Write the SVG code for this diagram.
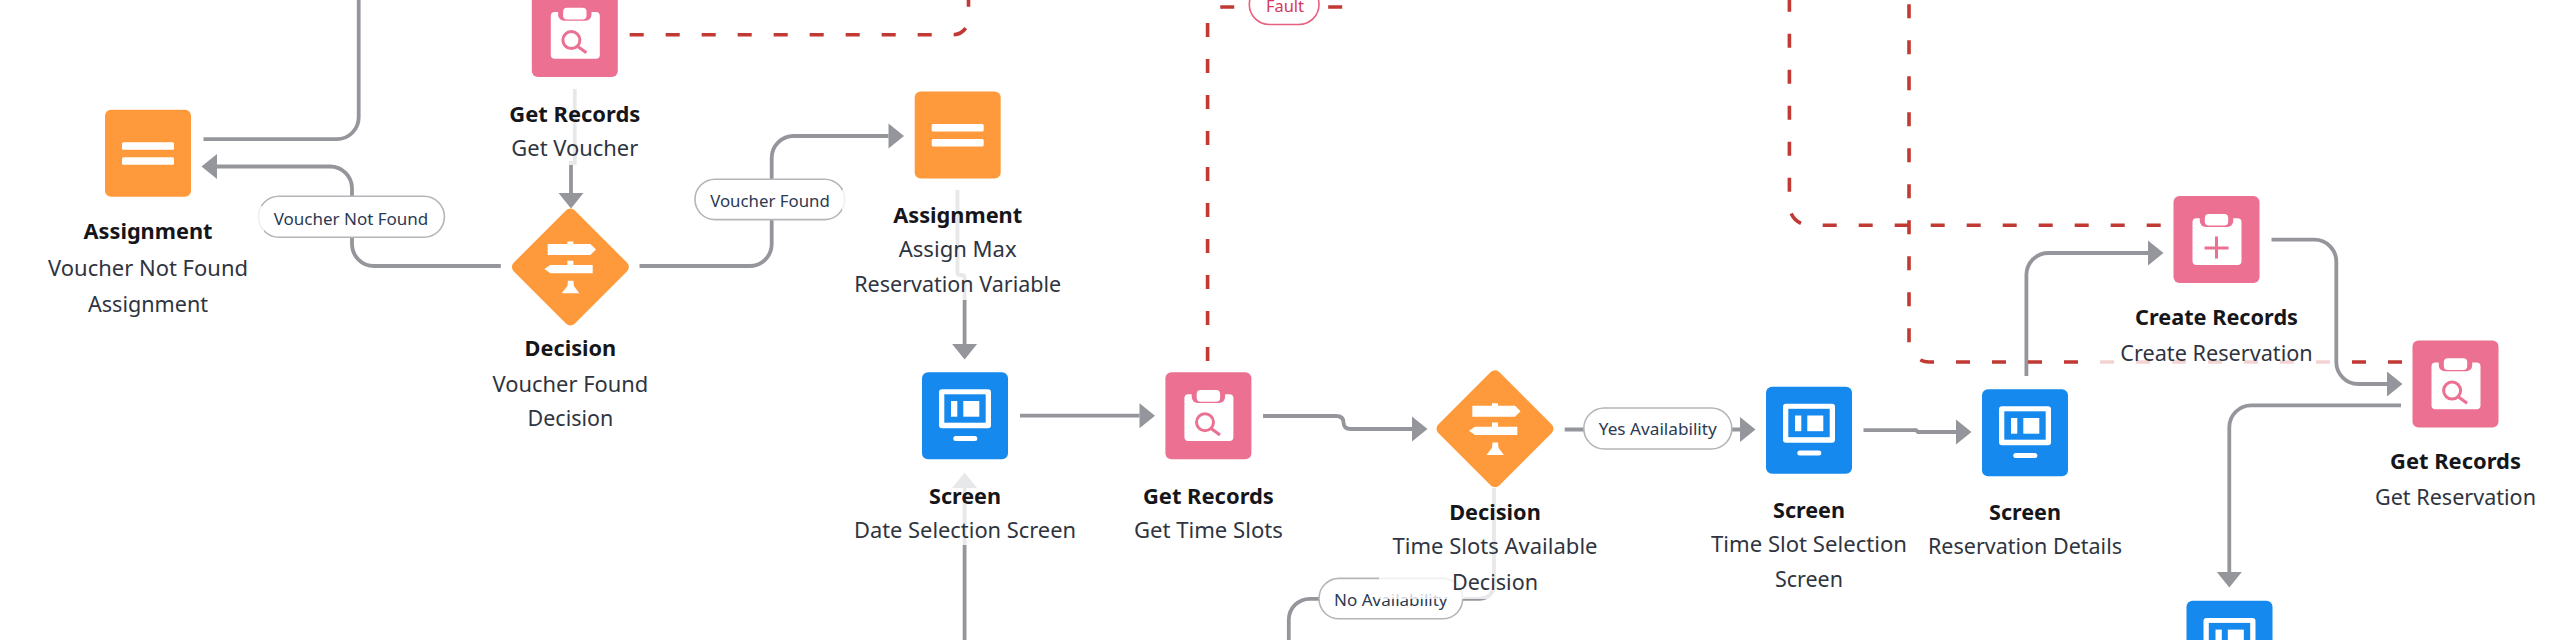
<svg xmlns="http://www.w3.org/2000/svg" width="2560" height="640" viewBox="0 0 2560 640">
<style>
text{font-family:"Noto Sans","Liberation Sans",Arial,sans-serif;text-anchor:middle}
.t{font-size:21.500px;font-weight:700;fill:#16161a}
.s{font-size:21.500px;fill:#2f3440}
.l{font-size:15.500px;fill:#2b3a52}
.f{font-size:15.500px;fill:#d8365a}
.bg{fill:#fff;fill-opacity:.78}
.c{fill:none;stroke:#94969b;stroke-width:3.8}
.a{marker-end:url(#arrow)}
.r{fill:none;stroke:#c23934;stroke-width:3.6;stroke-dasharray:14 22}
.p{fill:#fff;stroke:#b4b5b8;stroke-width:1.6}
.pf{fill:#fff;stroke:#e8607f;stroke-width:1.6}
.or{fill:#ff9a3c}.pk{fill:#eb7092}.bl{fill:#1589ee}.w{fill:#fff}
.ps{fill:none;stroke:#eb7092;stroke-width:3}
</style>
<defs>
<marker id="arrow" markerUnits="userSpaceOnUse" markerWidth="20" markerHeight="30" refX="2" refY="15" orient="auto">
<path d="M2 2.500 L17.500 15 L2 27.500 Z" fill="#94969b"/>
</marker>
<g id="assign">
<rect x="-43" y="-43.500" width="86" height="87" rx="6" class="or"/>
<rect x="-26" y="-11" width="52" height="7.500" rx="1.500" class="w"/>
<rect x="-26" y="4" width="52" height="7.500" rx="1.500" class="w"/>
</g>
<g id="clip">
<rect x="-43" y="-43.500" width="86" height="87" rx="6" class="pk"/>
<rect x="-24" y="-21.400" width="49" height="46.700" rx="4" class="w"/>
<rect x="-16.700" y="-29" width="33.400" height="16.300" rx="6" class="pk"/>
<rect x="-11.700" y="-25.700" width="23.400" height="11.700" rx="4" class="w"/>
</g>
<g id="get">
<use href="#clip"/>
<circle cx="-3.400" cy="6.600" r="8.500" class="ps"/>
<path d="M3 13 L11.600 19.300" class="ps"/>
</g>
<g id="create">
<use href="#clip"/>
<path d="M0 -3 V19 M-12 8.400 H12" class="ps"/>
</g>
<g id="screen">
<rect x="-43" y="-43.500" width="86" height="87" rx="6" class="bl"/>
<rect x="-26" y="-26.400" width="52" height="39" rx="3" class="w"/>
<rect x="-20.700" y="-21.400" width="41.400" height="28.400" class="bl"/>
<rect x="-14" y="-14.700" width="6.300" height="15.700" class="w"/>
<rect x="-1.700" y="-14.700" width="16" height="15.700" class="w"/>
<rect x="-11.700" y="20.300" width="24" height="5" rx="2.500" class="w"/>
</g>
<g id="decide">
<path d="M0 -52.500 L52.500 0 L0 52.500 L-52.500 0 Z" class="or" stroke="#ff9a3c" stroke-width="12" stroke-linejoin="round"/>
<path d="M-20 -23 H-3 V-25.500 H3 V-23 H20 L25.600 -17.500 L20 -12 H-22.700 V-23 Z" class="w"/>
<path d="M-20 -2 H-3 V-6.300 H3 V-2 H22.300 V6.300 H-20 L-26 2 Z" class="w"/>
<path d="M-2.500 13.700 H3 L3.500 19 L8.900 26.300 H-8.700 L-3 19 Z" class="w"/>
</g>
</defs>
<g id="connectors">
<path class="c" d="M203.500 139.200 H336.700 A22 22 0 0 0 358.700 117.200 V0"/>
<path class="c a" d="M574.800 89 V163 H571 V193"/>
<path class="c a" d="M500.800 266 H374 A22 22 0 0 1 352 244 V188.500 A22 22 0 0 0 330 166.500 H217"/>
<path class="c a" d="M639.500 266 H749.700 A22 22 0 0 0 771.700 244 V158 A22 22 0 0 1 793.700 136 H888.500"/>
<path class="c a" d="M957.500 190 V273 Q957.500 275 960 275 H962 Q964.600 275 964.600 278 V344"/>
<path class="c a" d="M964.600 640 V488"/>
<path class="c a" d="M1020 415.700 H1139.500"/>
<path class="c a" d="M1263 416 H1336 Q1343.600 416 1343.600 423 Q1343.600 429 1351 429 H1412"/>
<path class="c a" d="M1564.700 429.500 H1740"/>
<path class="c a" d="M1863.500 430.200 H1916 L1918 432 H1956"/>
<path class="c a" d="M2026.400 376 V275 A22 22 0 0 1 2048.400 253 H2148"/>
<path class="c a" d="M2271.500 239.600 H2314.300 A22 22 0 0 1 2336.300 261.600 V362 A22 22 0 0 0 2358.300 384 H2387"/>
<path class="c a" d="M2401 405.300 H2251.300 A22 22 0 0 0 2229.300 427.300 V572"/>
<path class="c" d="M1494 488 V583 Q1494 598.800 1478 598.800 H1310 A21 21 0 0 0 1288.800 620 V640"/>
<path class="r" d="M629.700 34.700 H953 A15.500 15.500 0 0 0 968.500 19 V0"/>
<path class="r" d="M1207.600 361 V22 A15 15 0 0 1 1222.600 7 H1347"/>
<path class="r" d="M2160.700 225.300 H1809.400 A20 20 0 0 1 1789.400 205 V0"/>
<path class="r" d="M2402 362 H1929 A20 20 0 0 1 1909 342 V0"/>
<rect class="p" x="258.400" y="196.300" width="186" height="41" rx="20.500"/>
<text class="l" x="351" y="225.300" textLength="154.700" lengthAdjust="spacingAndGlyphs">Voucher Not Found</text>
<rect class="p" x="695" y="179.200" width="149.700" height="40.400" rx="20"/>
<text class="l" x="770" y="206.600" textLength="119.600" lengthAdjust="spacingAndGlyphs">Voucher Found</text>
<rect class="pf" x="1249.300" y="-15.500" width="69.700" height="40" rx="20"/>
<text class="f" x="1285" y="12" textLength="38" lengthAdjust="spacingAndGlyphs">Fault</text>
<rect class="p" x="1319" y="578.400" width="143.700" height="40.400" rx="20"/>
<text class="l" x="1390.800" y="606" textLength="113.500" lengthAdjust="spacingAndGlyphs">No Availability</text>
<rect class="p" x="1583.800" y="408" width="148" height="41" rx="20.500"/>
<text class="l" x="1657.800" y="434.700" textLength="118" lengthAdjust="spacingAndGlyphs">Yes Availability</text>
</g>
<g id="node-assign-not-found">
<use href="#assign" x="148" y="153.300"/>
<rect class="bg" x="32" y="206" width="232" height="114"/>
<text class="t" x="148" y="238.800" textLength="129" lengthAdjust="spacingAndGlyphs">Assignment</text>
<text class="s" x="148" y="275.500" textLength="200" lengthAdjust="spacingAndGlyphs">Voucher Not Found</text>
<text class="s" x="148" y="311.500" textLength="120" lengthAdjust="spacingAndGlyphs">Assignment</text>
</g>
<g id="node-get-voucher">
<use href="#get" x="574.800" y="33.500"/>
<rect class="bg" x="459" y="89" width="232" height="76"/>
<text class="t" x="574.800" y="121.600" textLength="131" lengthAdjust="spacingAndGlyphs">Get Records</text>
<text class="s" x="574.800" y="156.300" textLength="127" lengthAdjust="spacingAndGlyphs">Get Voucher</text>
</g>
<g id="node-voucher-decision">
<use href="#decide" x="570.400" y="267"/>
<text class="t" x="570.400" y="356" textLength="91.600" lengthAdjust="spacingAndGlyphs">Decision</text>
<text class="s" x="570.400" y="391.900" textLength="155.800" lengthAdjust="spacingAndGlyphs">Voucher Found</text>
<text class="s" x="570.400" y="426.200" textLength="85.600" lengthAdjust="spacingAndGlyphs">Decision</text>
</g>
<g id="node-assign-max">
<use href="#assign" x="957.700" y="134.900"/>
<rect class="bg" x="842" y="190" width="232" height="110"/>
<text class="t" x="957.700" y="222.900" textLength="129" lengthAdjust="spacingAndGlyphs">Assignment</text>
<text class="s" x="957.700" y="257.200" textLength="118" lengthAdjust="spacingAndGlyphs">Assign Max</text>
<text class="s" x="957.700" y="291.500" textLength="207" lengthAdjust="spacingAndGlyphs">Reservation Variable</text>
</g>
<g id="node-date-screen">
<use href="#screen" x="965" y="415.700"/>
<rect class="bg" x="849" y="471" width="232" height="74"/>
<text class="t" x="965" y="504" textLength="72" lengthAdjust="spacingAndGlyphs">Screen</text>
<text class="s" x="965" y="538" textLength="222" lengthAdjust="spacingAndGlyphs">Date Selection Screen</text>
</g>
<g id="node-time-slots">
<use href="#get" x="1208.400" y="415.700"/>
<text class="t" x="1208.400" y="504" textLength="131" lengthAdjust="spacingAndGlyphs">Get Records</text>
<text class="s" x="1208.400" y="538" textLength="149" lengthAdjust="spacingAndGlyphs">Get Time Slots</text>
</g>
<g id="node-slots-decision">
<use href="#decide" x="1495" y="428.800"/>
<rect class="bg" x="1379" y="487" width="232" height="112"/>
<text class="t" x="1495" y="519.600" textLength="91.600" lengthAdjust="spacingAndGlyphs">Decision</text>
<text class="s" x="1495" y="553.900" textLength="205" lengthAdjust="spacingAndGlyphs">Time Slots Available</text>
<text class="s" x="1495" y="589.800" textLength="86" lengthAdjust="spacingAndGlyphs">Decision</text>
</g>
<g id="node-slot-screen">
<use href="#screen" x="1809" y="430.200"/>
<text class="t" x="1809" y="518.400" textLength="72" lengthAdjust="spacingAndGlyphs">Screen</text>
<text class="s" x="1809" y="552.300" textLength="196" lengthAdjust="spacingAndGlyphs">Time Slot Selection</text>
<text class="s" x="1809" y="586.600" textLength="68" lengthAdjust="spacingAndGlyphs">Screen</text>
</g>
<g id="node-details-screen">
<use href="#screen" x="2025" y="432.700"/>
<text class="t" x="2025" y="520.400" textLength="72" lengthAdjust="spacingAndGlyphs">Screen</text>
<text class="s" x="2025" y="554.300" textLength="194" lengthAdjust="spacingAndGlyphs">Reservation Details</text>
</g>
<g id="node-create-reservation">
<use href="#create" x="2216.500" y="239.600"/>
<rect class="bg" x="2100" y="292" width="232" height="77"/>
<text class="t" x="2216.500" y="325.300" textLength="163" lengthAdjust="spacingAndGlyphs">Create Records</text>
<text class="s" x="2216.500" y="361.300" textLength="192.500" lengthAdjust="spacingAndGlyphs">Create Reservation</text>
</g>
<g id="node-get-reservation">
<use href="#get" x="2455.500" y="384"/>
<text class="t" x="2455.500" y="469.400" textLength="131" lengthAdjust="spacingAndGlyphs">Get Records</text>
<text class="s" x="2455.500" y="505.300" textLength="161" lengthAdjust="spacingAndGlyphs">Get Reservation</text>
</g>
<g id="node-final-screen">
<use href="#screen" x="2229.500" y="644.300"/>
</g>
</svg>
